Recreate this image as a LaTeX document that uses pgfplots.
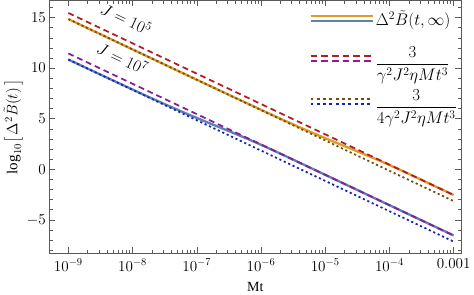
\documentclass[border=0pt]{standalone}
\usepackage{amsmath}
\usepackage{fontspec}
\setmainfont{Liberation Serif}
\usepackage{pgfplots}
\pgfplotsset{compat=1.18}
\definecolor{morange}{RGB}{225,156,36}
\definecolor{mblue}{RGB}{94,129,181}
\definecolor{mred}{RGB}{178,28,38}
\definecolor{mpurple}{RGB}{135,30,150}
\definecolor{mbrown}{RGB}{110,78,20}
\definecolor{mdblue}{RGB}{25,35,175}
\begin{document}
\begin{tikzpicture}
\begin{axis}[
  scale only axis, width=423pt, height=260pt,
  xmode=log, xmin=5.1e-10, xmax=1.3e-3,
  ymin=-8.3, ymax=16.7,
  xtick={1e-9,1e-8,1e-7,1e-6,1e-5,1e-4,1e-3},
  xticklabels={$10^{-9}$,$10^{-8}$,$10^{-7}$,$10^{-6}$,$10^{-5}$,$10^{-4}$,$0.001$},
  ytick={-5,0,5,10,15},
  yticklabels={$-5$,$0$,$5$,$10$,$15$},
  minor ytick={-8,-7,-6,-4,-3,-2,-1,1,2,3,4,6,7,8,9,11,12,13,14,16},
  tick align=inside,
  major tick length=6pt, minor tick length=3.5pt,
  tick style={gray!70!black, line width=0.5pt},
  axis line style={gray!70!black, line width=0.7pt},
  tick label style={font=\fontsize{14.4}{17}\selectfont, scale=1.08},
  xticklabel style={yshift=-2pt},
  xlabel={Mt}, ylabel={$\log_{10}\bigl[\,\Delta^2\tilde{B}(t)\,\bigr]$},
  xlabel style={font=\fontsize{14.4}{17}\selectfont, yshift=-4pt},
  ylabel style={font=\fontsize{14.4}{17}\selectfont, scale=1.08, yshift=-3pt},
  legend style={draw=none, fill=none, at={(rel axis cs:1,1)}, anchor=north east,
    font=\fontsize{17.28}{20}\selectfont, row sep=16pt, legend cell align=left,
    xshift=1pt, yshift=-6pt},
  legend cell align=left,
]
% J=10^5 solid
\addplot[morange, line width=2.4pt, forget plot] coordinates {
(1e-9,14.848) (1e-7,8.848) (3.981e-7,7.061) (1.259e-6,5.587) (2.239e-6,4.864)
(3.981e-6,4.157) (7.079e-6,3.471) (1.259e-5,2.807) (2.239e-5,2.158)
(3.981e-5,1.510) (7.079e-5,0.841) (1.259e-4,0.136) (2.239e-4,-0.601)
(3.981e-4,-1.350) (1e-3,-2.550)};
% J=10^7 solid
\addplot[mblue, line width=2.4pt, forget plot] coordinates {
(1e-9,10.848) (3.981e-9,9.061) (1.259e-8,7.587) (2.239e-8,6.864)
(3.981e-8,6.157) (7.079e-8,5.471) (1.259e-7,4.807) (2.239e-7,4.158)
(3.981e-7,3.510) (7.079e-7,2.841) (1.259e-6,2.136) (2.239e-6,1.399)
(3.981e-6,0.650) (1e-3,-6.550)};
% dashed
\addplot[mred, line width=1.8pt, dash pattern=on 6pt off 4pt, forget plot] coordinates {(1e-9,15.45) (1e-3,-2.55)};
\addplot[mpurple, line width=1.8pt, dash pattern=on 6pt off 4pt, forget plot] coordinates {(1e-9,11.45) (1e-3,-6.55)};
% dotted
\addplot[mbrown, line width=1.8pt, dash pattern=on 2.2pt off 2.8pt, forget plot] coordinates {(1e-9,14.848) (1e-3,-3.152)};
\addplot[mdblue, line width=1.8pt, dash pattern=on 2.2pt off 2.8pt, forget plot] coordinates {(1e-9,10.848) (1e-3,-7.152)};
% legend
\addlegendimage{legend image code/.code={
  \draw[morange, line width=2.2pt] (0pt,2.6pt) -- (64pt,2.6pt);
  \draw[mblue, line width=2.2pt] (0pt,-2.6pt) -- (64pt,-2.6pt);}}
\addlegendentry{$\Delta^2\tilde{B}(t,\infty)$}
\addlegendimage{legend image code/.code={
  \draw[mred, line width=1.8pt, dash pattern=on 7pt off 4pt] (0pt,2.6pt) -- (64pt,2.6pt);
  \draw[mpurple, line width=1.8pt, dash pattern=on 7pt off 4pt] (0pt,-2.6pt) -- (64pt,-2.6pt);}}
\addlegendentry{$\dfrac{3}{\gamma^2J^2\eta M t^3}$}
\addlegendimage{legend image code/.code={
  \draw[mbrown, line width=1.8pt, dash pattern=on 3pt off 3.5pt] (0pt,2.6pt) -- (64pt,2.6pt);
  \draw[mdblue, line width=1.8pt, dash pattern=on 3pt off 3.5pt] (0pt,-2.6pt) -- (64pt,-2.6pt);}}
\addlegendentry{$\dfrac{3}{4\gamma^2J^2\eta M t^3}$}
\node[rotate=-25.3, font=\fontsize{17.28}{20}\selectfont] at (axis cs:8.0e-9,14.9) {$J=10^5$};
\node[rotate=-25.3, font=\fontsize{17.28}{20}\selectfont] at (axis cs:7.0e-9,11.0) {$J=10^7$};
\end{axis}
\end{tikzpicture}
\end{document}
